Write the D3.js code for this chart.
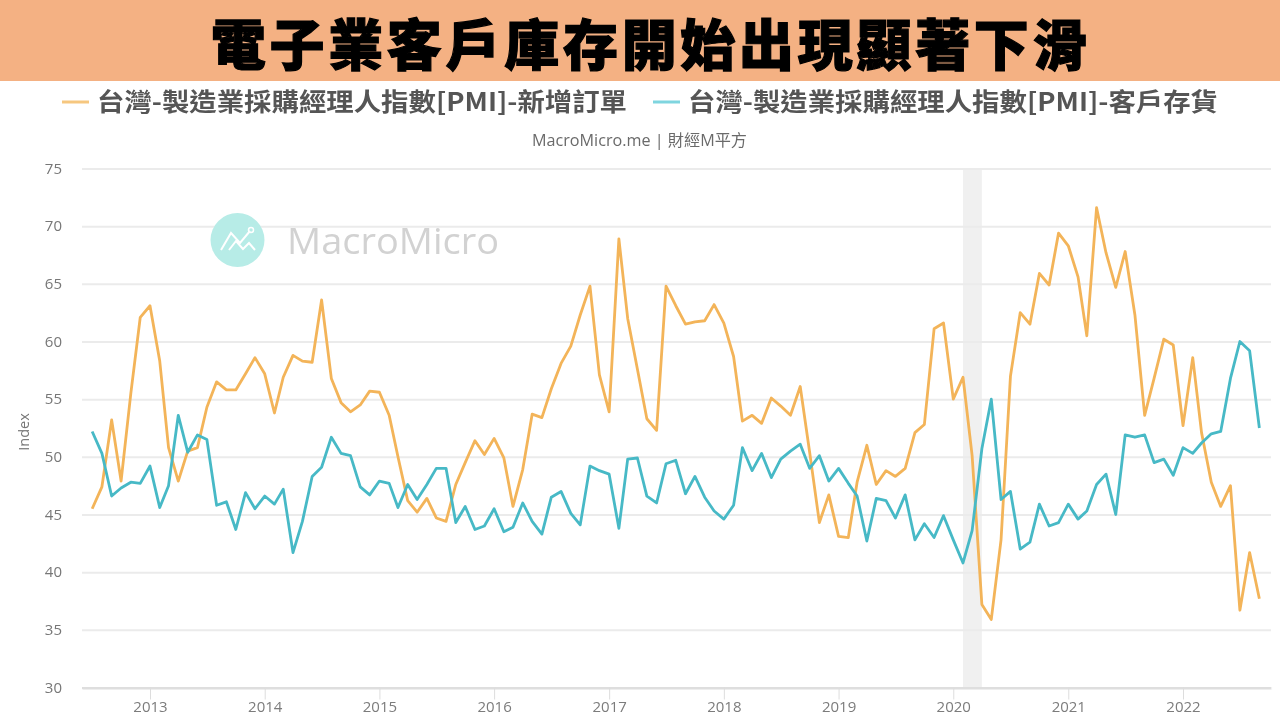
<!DOCTYPE html>
<html>
<head>
<meta charset="utf-8">
<script src="https://cdn.jsdelivr.net/npm/d3@7"></script>
<style>
  html, body { margin: 0; padding: 0; background: #fff; }
  svg { display: block; }
  text { font-family: "Open Sans", "Noto Sans CJK TC", sans-serif; }
  .cjk { font-family: "Noto Sans CJK TC", sans-serif; }
  .soft { filter: blur(0.5px); }
</style>
</head>
<body>
<svg id="chart" width="1280" height="720"></svg>
<script>
const chartTitle = "電子業客戶庫存開始出現顯著下滑";
const seriesNames = [
  "台灣-製造業採購經理人指數[PMI]-新增訂單",
  "台灣-製造業採購經理人指數[PMI]-客戶存貨",
];
const subtitle = "MacroMicro.me | 財經M平方";
const startMonth = [2012, 6]; // first point, July 2012 (0 based month)
const yTicks = [30, 35, 40, 45, 50, 55, 60, 65, 70, 75];
const xTickYears = [2013, 2014, 2015, 2016, 2017, 2018, 2019, 2020, 2021, 2022];
const recession = [[2020, 1], [2020, 3]];

const newOrders = [
  45.5, 47.4, 53.2, 47.9, 55.5, 62.1,
  63.1, 58.3, 50.8, 47.9, 50.5, 50.8, 54.3, 56.5, 55.8, 55.8, 57.2, 58.6,
  57.2, 53.8, 56.9, 58.8, 58.3, 58.2, 63.6, 56.8, 54.7, 53.9, 54.5, 55.7,
  55.6, 53.6, 50.0, 46.2, 45.2, 46.4, 44.7, 44.4, 47.6, 49.5, 51.4, 50.2,
  51.6, 49.9, 45.7, 48.9, 53.7, 53.4, 55.9, 58.1, 59.6, 62.3, 64.8, 57.1,
  53.9, 68.9, 62.0, 57.6, 53.3, 52.3, 64.8, 63.1, 61.5, 61.7, 61.8, 63.2,
  61.6, 58.7, 53.1, 53.6, 52.9, 55.1, 54.4, 53.6, 56.1, 50.4, 44.3, 46.7,
  43.1, 43.0, 47.8, 51.0, 47.6, 48.8, 48.3, 49.0, 52.1, 52.8, 61.1, 61.6,
  55.0, 56.9, 50.1, 37.2, 35.9, 42.8, 57.0, 62.5, 61.5, 65.9, 64.9, 69.4,
  68.3, 65.6, 60.5, 71.6, 67.7, 64.7, 67.8, 62.3, 53.6, 56.8, 60.2, 59.7,
  52.7, 58.6, 52.1, 47.8, 45.7, 47.5, 36.7, 41.7, 37.7,
];
const customerInventory = [
  52.2, 50.3, 46.6, 47.3, 47.8, 47.7,
  49.2, 45.6, 47.5, 53.6, 50.4, 51.9, 51.5, 45.8, 46.1, 43.7, 46.9, 45.5,
  46.6, 45.9, 47.2, 41.7, 44.4, 48.3, 49.1, 51.7, 50.3, 50.1, 47.4, 46.7,
  47.9, 47.7, 45.6, 47.6, 46.3, 47.6, 49.0, 49.0, 44.3, 45.7, 43.7, 44.0,
  45.5, 43.5, 43.9, 46.0, 44.4, 43.3, 46.5, 47.0, 45.1, 44.1, 49.2, 48.8,
  48.5, 43.8, 49.8, 49.9, 46.6, 46.0, 49.4, 49.7, 46.8, 48.3, 46.5, 45.3,
  44.6, 45.8, 50.8, 48.8, 50.3, 48.2, 49.8, 50.5, 51.1, 49.0, 50.1, 47.9,
  49.0, 47.7, 46.6, 42.7, 46.4, 46.2, 44.7, 46.7, 42.8, 44.2, 43.0, 44.9,
  42.8, 40.8, 43.6, 50.7, 55.0, 46.3, 47.0, 42.0, 42.6, 45.9, 44.0, 44.3,
  45.9, 44.6, 45.3, 47.6, 48.5, 45.0, 51.9, 51.7, 51.9, 49.5, 49.8, 48.4,
  50.8, 50.3, 51.2, 52.0, 52.2, 56.8, 60.0, 59.2, 52.5,
];

const orange = "#f3b459";
const teal = "#47b9c6";

const svg = d3.select("#chart");
const width = 1280;

const plotLeft = 82;
const plotRight = 1271;
const plotTop = 168.5;
const plotBottom = 687.5;

const monthDate = (i) => new Date(Date.UTC(startMonth[0], startMonth[1] + i, 1));

// the two known year ticks fix the scale, then widen it to the plot edges
const xScale = d3
  .scaleUtc()
  .domain([new Date(Date.UTC(2013, 0, 1)), new Date(Date.UTC(2022, 0, 1))])
  .range([150, 1183]);
xScale
  .domain([xScale.invert(plotLeft), xScale.invert(plotRight)])
  .range([plotLeft, plotRight]);

const yScale = d3.scaleLinear().domain([30, 75]).range([plotBottom, plotTop]);

// banner
svg.append("rect")
  .attr("width", width)
  .attr("height", 81)
  .attr("fill", "#f4b183");
svg.append("text")
  .attr("class", "cjk")
  .attr("x", 651)
  .attr("y", 64.5)
  .attr("text-anchor", "middle")
  .attr("font-size", 55)
  .attr("font-weight", 900)
  .attr("letter-spacing", 3.7)
  .attr("stroke", "#000")
  .attr("stroke-width", 1.2)
  .attr("fill", "#000")
  .text(chartTitle);

// legend
const legendItems = [
  { name: seriesNames[0], lineX: 62, textX: 97, color: "#f6c77f" },
  { name: seriesNames[1], lineX: 653, textX: 688, color: "#7fd5df" },
];
const legend = svg.append("g").attr("class", "soft");
legend.selectAll("line")
  .data(legendItems)
  .join("line")
  .attr("x1", (d) => d.lineX)
  .attr("x2", (d) => d.lineX + 27)
  .attr("y1", 102)
  .attr("y2", 102)
  .attr("stroke", (d) => d.color)
  .attr("stroke-width", 3);
legend.selectAll("text")
  .data(legendItems)
  .join("text")
  .attr("class", "cjk")
  .attr("x", (d) => d.textX)
  .attr("y", 111)
  .attr("font-size", 25)
  .attr("font-weight", 700)
  .attr("fill", "#555")
  .attr("textLength", 530)
  .attr("lengthAdjust", "spacingAndGlyphs")
  .text((d) => d.name);

svg.append("text")
  .attr("class", "soft")
  .attr("x", 532)
  .attr("y", 146)
  .attr("font-size", 15.5)
  .attr("fill", "#6a6a6a")
  .attr("textLength", 215)
  .attr("lengthAdjust", "spacingAndGlyphs")
  .text(subtitle);

// recession band
svg.append("rect")
  .attr("x", xScale(new Date(Date.UTC(recession[0][0], recession[0][1], 1))))
  .attr("y", plotTop)
  .attr("width",
    xScale(new Date(Date.UTC(recession[1][0], recession[1][1], 1))) -
    xScale(new Date(Date.UTC(recession[0][0], recession[0][1], 1))))
  .attr("height", plotBottom - plotTop)
  .attr("fill", "#f0f0f0");

// y axis with full width grid
const yAxis = svg.append("g")
  .attr("class", "soft")
  .attr("transform", `translate(${plotLeft},0)`)
  .call(d3.axisLeft(yScale).tickValues(yTicks).tickSize(-(plotRight - plotLeft)).tickPadding(20));
yAxis.select(".domain").remove();
yAxis.selectAll(".tick line")
  .attr("stroke", (d) => (d === 30 ? "#dedede" : "#ebebeb"))
  .attr("stroke-width", 2);
yAxis.selectAll(".tick text")
  .attr("font-size", 15)
  .attr("font-family", "'Open Sans', sans-serif")
  .attr("fill", "#777");

svg.append("text")
  .attr("class", "soft")
  .attr("transform", "translate(29,432) rotate(-90)")
  .attr("text-anchor", "middle")
  .attr("font-size", 14.5)
  .attr("fill", "#777")
  .text("Index");

// x axis
const xAxis = svg.append("g")
  .attr("class", "soft")
  .attr("transform", `translate(0,${plotBottom})`)
  .call(
    d3.axisBottom(xScale)
      .tickValues(xTickYears.map((y) => new Date(Date.UTC(y, 0, 1))))
      .tickFormat(d3.utcFormat("%Y"))
      .tickSize(12)
      .tickSizeOuter(0)
      .tickPadding(2)
  );
xAxis.select(".domain").attr("stroke", "#dedede").attr("stroke-width", 2);
xAxis.selectAll(".tick line").attr("stroke", "#ddd");
xAxis.selectAll(".tick text")
  .attr("font-size", 15)
  .attr("font-family", "'Open Sans', sans-serif")
  .attr("fill", "#7c7c7c");

// watermark
const mark = svg.append("g").attr("class", "soft");
mark.append("circle")
  .attr("cx", 237.5)
  .attr("cy", 240)
  .attr("r", 27)
  .attr("fill", "#b7ece7");
mark.append("path")
  .attr("d", "M221 250 L231 233 L240 243 L250 231 M229 250 L236 241 L243 249 L249 243 L255 250")
  .attr("fill", "none")
  .attr("stroke", "#fff")
  .attr("stroke-width", 2);
mark.append("circle")
  .attr("cx", 251)
  .attr("cy", 230)
  .attr("r", 2.5)
  .attr("fill", "none")
  .attr("stroke", "#fff")
  .attr("stroke-width", 1.5);
mark.append("text")
  .attr("x", 287)
  .attr("y", 254)
  .attr("font-size", 37)
  .attr("fill", "#d2d2d2")
  .attr("textLength", 212)
  .attr("lengthAdjust", "spacingAndGlyphs")
  .text("MacroMicro");

// data lines
const line = d3
  .line()
  .x((_, i) => xScale(monthDate(i)))
  .y((d) => yScale(d));

const lines = svg.append("g").attr("class", "soft");
lines.append("path")
  .datum(newOrders)
  .attr("d", line)
  .attr("fill", "none")
  .attr("stroke", orange)
  .attr("stroke-width", 2.8)
  .attr("stroke-linejoin", "round");
lines.append("path")
  .datum(customerInventory)
  .attr("d", line)
  .attr("fill", "none")
  .attr("stroke", teal)
  .attr("stroke-width", 2.8)
  .attr("stroke-linejoin", "round");
</script>
</body>
</html>
